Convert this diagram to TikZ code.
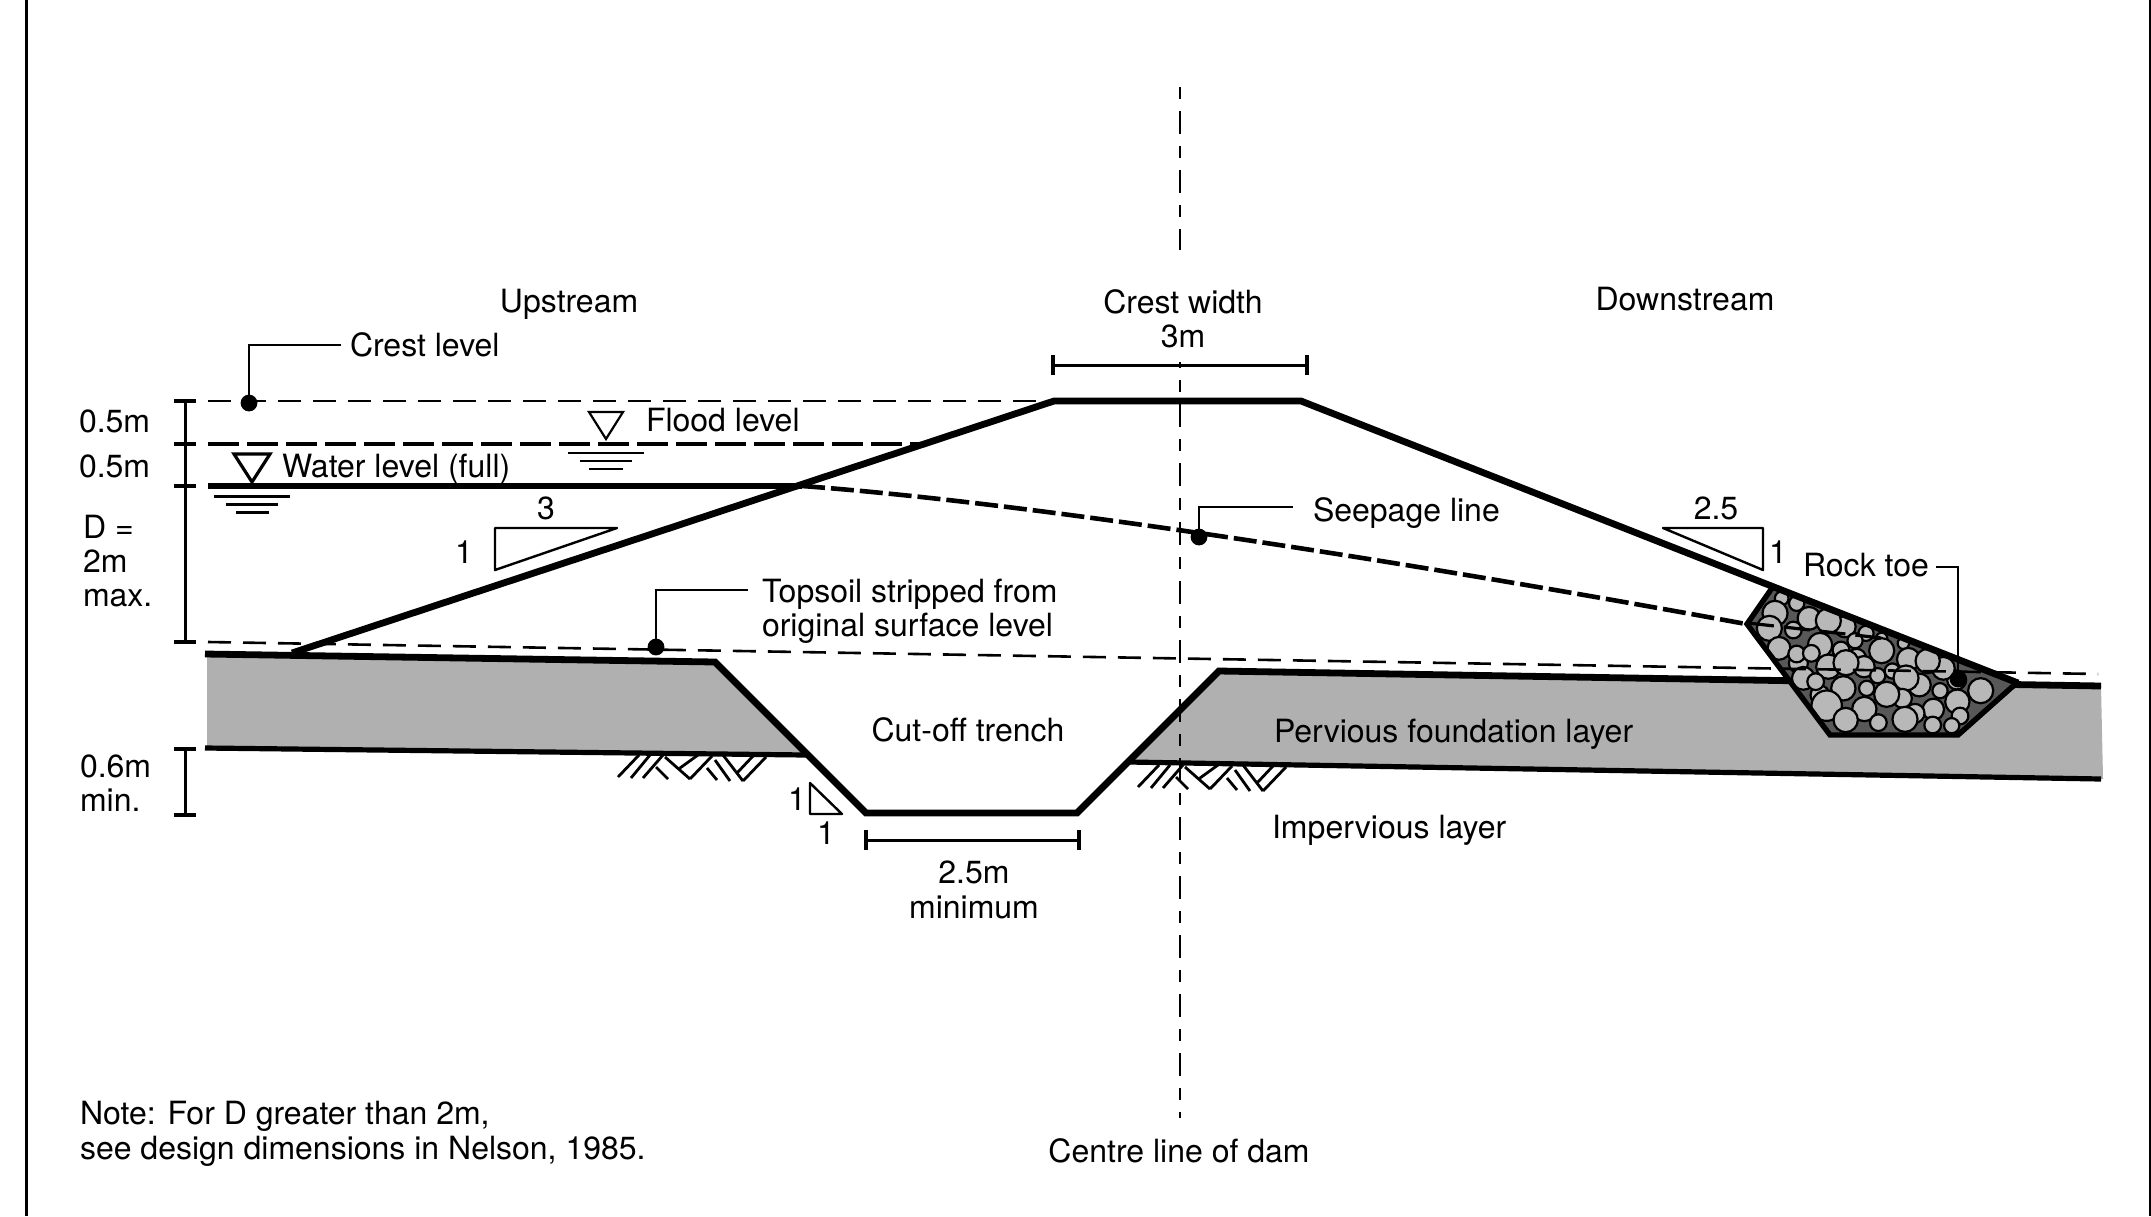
\documentclass[tikz,border=0pt]{standalone}
\usepackage{fontspec}
\setmainfont{TeX Gyre Heros}
\definecolor{soil}{HTML}{B0B0B0}
\definecolor{rockbed}{HTML}{585858}
\definecolor{rock}{HTML}{B8B8B8}
\tikzset{
  lbl/.style={inner sep=0pt,outer sep=0pt,font=\fontsize{16}{17.2}\selectfont,align=left,anchor=west},
  clbl/.style={lbl,align=center,anchor=center},
  single/.style={text height=11.5pt,text depth=0pt},
  thickline/.style={line width=3.4pt},
  thinline/.style={line width=1.2pt,line join=round},
  dimline/.style={line width=1.5pt},
  dimtick/.style={line width=2pt},
  bar/.style={line width=2.4pt},
  leader/.style={line width=1.2pt},
  dot/.style={circle,fill=black,inner sep=0pt,minimum size=8.4pt},
  thindash/.style={line width=1.3pt,dash pattern=on 11.5pt off 6pt},
  heavydash/.style={line width=2.2pt,dash pattern=on 15.5pt off 4pt},
  seep/.style={line width=2.3pt,dash pattern=on 11.5pt off 3pt},
  centredash/.style={line width=1.25pt,dash pattern=on 6pt off 6pt on 11.5pt off 6pt},
  hatchline/.style={line width=1.4pt},
  rockcircle/.style={fill=rock,draw=black,line width=1.1pt},
}
\newcommand{\hatchmark}{%
  \draw[hatchline] (618,777)--(639,755) (631,778)--(650,755) (643,778)--(663,755)
    (656,767)--(668,779) (665,757)--(690,779) (690,779)--(712,756) (680,768)--(698,755)
    (707,768)--(717,780) (715,760)--(730,781) (723,755)--(743,781) (743,781)--(766,757)
    (737,773)--(753,756);
}
\begin{document}
\begin{tikzpicture}[x=0.5pt,y=-0.5pt]
\useasboundingbox (0,0) rectangle (2151,1216);
% frame lines
\draw[line width=1.5pt] (26,0)--(26,1216);
\draw[line width=1.3pt] (2150,0)--(2150,1216);
% foundation blocks
\fill[soil] (207,654)--(715,662)--(806,755)--(207,748)--cycle;
\fill[soil] (1219,671)--(2101,686)--(2103,779)--(1129,762)--cycle;
% hatch marks
\hatchmark
\begin{scope}[shift={(520,10)}]\hatchmark\end{scope}
% impervious boundary
\draw[line width=2.6pt] (205,748)--(806,755);
\draw[line width=2.6pt] (1129,762)--(2101,779);
% foundation surface and trench
\coordinate (fa) at (205,654);
\coordinate (fb) at (715,662);
\coordinate (fc) at (866,813);
\coordinate (fd) at (1077,813);
\coordinate (fe) at (1219,671);
\coordinate (ff) at (2101,686);
\draw[thickline] (fa)--(fb)--(fc)--(fd)--(fe)--(ff);
% rock toe
\coordinate (ta) at (1772,588);
\coordinate (tb) at (1747,624);
\coordinate (tc) at (1830,735);
\coordinate (td) at (1958,735);
\coordinate (te) at (2012,687);
\coordinate (tf) at (2018,683);
\fill[rockbed] (ta)--(tb)--(tc)--(td)--(te)--(tf)--cycle;
\begin{scope}
\clip (ta)--(tb)--(tc)--(td)--(te)--(tf)--cycle;
\foreach \cx/\cy/\r in {650/300/25,240/345/25,175/250/25,350/235/25,425/175/15,490/190/15,
  125/55/18,170/70/20,105/100/33,160/150/22,88/145/33,207/115/30,315/140/28,265/122/33,
  378/160/20,345/182/20,240/195/32,117/205/30,170/222/22,214/220/22,303/210/22,425/212/33,
  505/238/30,610/265/30,563/243/32,372/260/28,265/260/32,318/248/33,190/295/30,227/305/22,
  413/287/20,457/273/20,538/315/30,498/294/33,487/355/25,310/325/32,380/325/20,440/343/33,
  600/332/20,722/332/33,652/365/32,580/388/28,660/408/22,260/377/40,373/387/32,317/420/32,
  415/428/22,525/400/25,495/418/33,578/435/22,635/437/20}
  {\draw[rockcircle] ({1740+\cx/3},{580+\cy/3}) circle[radius=\r*0.19pt];}
\end{scope}
\draw[line width=2.7pt,line join=miter] (ta)--(tb)--(tc)--(td)--(te)--(tf);
% levels
\draw[thindash] (208,401)--(1054,401);
\draw[heavydash] (208,444)--(922,444);
\draw[thickline] (208,486)--(802,486);
\coordinate (seepa) at (802,486);
\coordinate (seepb) at (1746,624);
\draw[seep] (seepa) .. controls (1060,505) and (1480,575) .. (seepb);
\draw[line width=1.6pt,dash pattern=on 13pt off 5pt] (1748,623)--(1890,639);
\draw[thindash] (208,642)--(2098,674);
% embankment
\coordinate (ea) at (292,653);
\coordinate (eb) at (1054,401);
\coordinate (ec) at (1301,401);
\coordinate (ed) at (2018,683);
\draw[thickline,line join=miter] (ea)--(eb)--(ec)--(ed);
% centre line
\draw[centredash] (1180,87)--(1180,250);
\draw[centredash,dash phase=20.5pt] (1180,362)--(1180,1118);
% left dimensions
\draw[dimline] (185,401)--(185,642) (185,749)--(185,815);
\foreach \yy in {401,444,486,642,749,815}{\draw[bar] (174,\yy)--(196,\yy);}
\node[lbl,single] (d1) at (79,420.5) {0.5m};
\node[lbl,single] (d2) at (79,465.5) {0.5m};
\node[lbl] (d3) at (83,561) {D =\\2m\\max.};
\node[lbl] (d4) at (80,783) {0.6m\\min.};
% crest level
\node[lbl,single] (crest) at (350,345) {Crest level};
\node[dot] (crestdot) at (249,403) {};
\draw[leader] (crestdot.center) |- ([xshift=-4.5pt]crest.west);
% water marks
\draw[line width=1.1pt] (589,412)--(623,412)--(606,439)--cycle;
\draw[line width=1pt] (568,453)--(644,453) (580,461)--(632,461) (589,469)--(623,469);
\draw[line width=1.6pt] (234,454)--(270,454)--(252,482)--cycle;
\draw[line width=1.5pt] (214,496)--(290,496) (226,504)--(278,504) (236,512)--(269,512);
\node[lbl,single] (flood) at (646,420) {Flood level};
\node[lbl,single] (water) at (282,466) {Water level (full)};
% headings
\node[clbl,single] (up) at (569,301) {Upstream};
\node[clbl,single] (down) at (1685,299) {Downstream};
\node[clbl] (cw) at (1183,319) {Crest width\\3m};
\draw[dimline] (1053,365)--(1307,365);
\draw[dimtick] (1053,355)--(1053,375) (1307,355)--(1307,375);
% slope triangles
\draw[thinline] (495,528)--(617,528)--(495,570)--cycle;
\node[clbl,single] (s3) at (546,508) {3};
\node[clbl,single] (s1) at (464,552) {1};
\draw[thinline] (1663,528)--(1763,528)--(1763,570)--cycle;
\node[clbl,single] (t25) at (1716,508) {2.5};
\node[clbl,single] (t1) at (1778,552) {1};
\draw[thinline] (810,783)--(810,814)--(842,814)--cycle;
\node[clbl,single] (u1) at (797,799) {1};
\node[clbl,single] (u2) at (826,833) {1};
% seepage label
\node[lbl,single] (seeptext) at (1313,510) {Seepage line};
\node[dot] (seepdot) at (1199,537) {};
\draw[leader] (seepdot.center) |- ([xshift=-10pt,yshift=1.5pt]seeptext.west);
% topsoil label
\node[lbl] (top) at (762,611) {Topsoil stripped from\\original surface level};
\node[dot] (topdot) at (656,647) {};
\draw[leader] (topdot.center) |- (748,590);
% rock toe label
\node[lbl,single] (toe) at (1803,565) {Rock toe};
\node[dot] (toedot) at (1958,679) {};
\draw[leader] (toedot.center) |- ([xshift=3.5pt,yshift=-1pt]toe.east);
% trench labels
\node[clbl,single] (cut) at (968,730) {Cut-off trench};
\node[lbl,single] (perv) at (1274,731) {Pervious foundation layer};
\node[lbl,single] (imp) at (1272,827) {Impervious layer};
\draw[dimline] (866,840)--(1079,840);
\draw[dimtick] (866,830)--(866,850) (1079,830)--(1079,850);
\node[clbl] (min) at (974,890) {2.5m\\minimum};
% notes
\node[lbl] (note) at (80,1134) {Note: For D greater than 2m,\\see design dimensions in Nelson, 1985.};
\node[clbl,single] (cl) at (1179,1151) {Centre line of dam};
\end{tikzpicture}
\end{document}
